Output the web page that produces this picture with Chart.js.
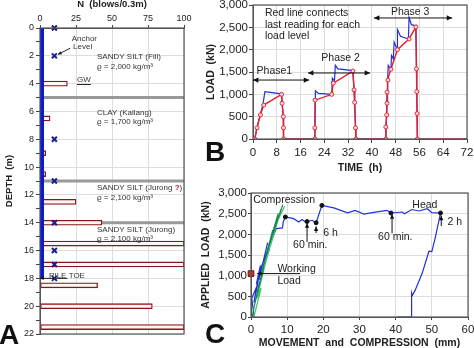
<!DOCTYPE html>
<html>
<head>
<meta charset="utf-8">
<script src="https://cdn.jsdelivr.net/npm/chart.js@4.4.0/dist/chart.umd.min.js"></script>
<style>
  body { margin: 0; background: #fff; }
  #wrap { position: relative; width: 474px; height: 348px; overflow: hidden; }
  canvas { position: absolute; }
</style>
</head>
<body>
<div id="wrap">
  <canvas id="chartA" width="200" height="348" style="left:0;top:0"></canvas>
  <canvas id="chartB" width="274" height="175" style="left:200px;top:0"></canvas>
  <canvas id="chartC" width="274" height="173" style="left:200px;top:175px"></canvas>
</div>
<script>
// --- A: SPT profile ---
const sptDepth = [4, 6.5, 9, 10.5, 12.5, 14, 15.5, 17, 18.5, 20, 21.5]
const sptN = [19, 7, 4, 4, 25, 43, 100, 100, 40, 78, 100]
const markDepth = [0, 2, 8, 11, 14, 16, 17, 18]
const markN = [10, 10, 10, 10, 10, 10, 10, 10]
const layerDepth = [5, 11, 14]
const pileN = 1.4
const pileToe = 18

// --- B: load vs time ---
const timeRed = [0, 0.6, 1.35, 2.5, 3.6, 9.6, 9.8, 10.2, 10.25, 10.3,
  20.8, 20.8, 20.9, 26.5, 27.0, 33.6, 34.0, 34.2, 34.5, 34.6,
  44.7, 44.7, 45.0, 45.1, 45.1, 45.4, 46.4, 48.6, 52.5, 54.8, 55.0, 55.1, 55.2, 55.3, 72]
const loadRed = [0, 0, 250, 540, 760, 1000, 800, 500, 250, 0,
  0, 250, 870, 1000, 1250, 1520, 1100, 820, 250, 0,
  0, 270, 540, 800, 1050, 1320, 1560, 2000, 2240, 2510, 1570, 1060, 570, 0, 0]
const timeBlue = [0.6, 1.3, 2.4, 3.3, 4.0, 9.6, 9.8, 10.2, 10.25, 10.3,
  20.8, 21.0, 22.0, 26.5, 26.7, 27.4, 27.7, 28.6, 33.6, 34.0, 34.2, 34.5, 34.6,
  44.7, 44.9, 45.1, 45.3, 45.5, 46.4, 46.6, 47.2, 47.5, 48.5, 48.6, 49.6, 52.3, 52.5, 53.3, 54.8, 55.0, 55.1, 55.2, 55.3]
const loadBlue = [0, 250, 540, 760, 1060, 1010, 800, 500, 250, 0,
  0, 1080, 1020, 1000, 1360, 1300, 1650, 1570, 1530, 1100, 820, 250, 0,
  0, 540, 1080, 1330, 1650, 1560, 1870, 1790, 2170, 2010, 2450, 2300, 2240, 2720, 2560, 2530, 1570, 1060, 570, 0]

// --- C: load vs movement ---
const headMm = [0.9, 0.2, 1.8, 0.8, 2.6, 1.5, 3.2, 2.2, 4.6, 3.3, 5.2, 4.2, 6.6, 5.4, 7.0, 8.7, 8.9, 9.5,
  11.8, 13.2, 14.1, 15.0, 15.5, 16.9, 18.0, 19.6, 22.9, 26.7, 28.8, 31.2, 33.9, 37.6, 38.7, 41.8, 42.4,
  44.5, 46.4, 48.7, 50.0, 52.4, 51.0, 50.0, 49.2, 47.3, 45.4, 44.6, 44.4, 44.4, 40.3]
const headKn = [0, 450, 780, 350, 1250, 800, 1300, 900, 1800, 1300, 1650, 1500, 2150, 1800, 2140, 2155, 2300, 2420,
  2380, 2300, 2357, 2300, 2310, 2340, 2280, 2700, 2640, 2520, 2580, 2490, 2530, 2580, 2516, 2540, 2500,
  2600, 2565, 2620, 2525, 2516, 1940, 1580, 1590, 1050, 650, 520, 580, 0, 0]
const compMm1 = [0.3, 2.2, 1.0, 3.5, 2.0, 4.8, 3.0, 6.0, 4.5, 7.5, 6.0, 8.8]
const compKn1 = [0, 800, 300, 1200, 700, 1700, 1100, 2100, 1600, 2500, 2000, 2720]
const compMm2 = [0.8, 2.8, 1.6, 4.0, 2.8, 5.5, 4.0, 7.0, 5.5, 8.3, 7.2, 9.3]
const compKn2 = [0, 700, 450, 1300, 900, 1800, 1300, 2250, 1750, 2600, 2300, 2680]
const holdMm = [9.5, 15.5, 18.0, 19.6, 38.7, 52.4]
const holdKn = [2420, 2310, 2280, 2700, 2516, 2516]
const workingLoad = 1050

const FONT = '"Liberation Sans", Arial, sans-serif'
Chart.defaults.font.family = FONT
Chart.defaults.color = '#222'
Chart.defaults.animation = false
Chart.defaults.plugins.legend.display = false
Chart.defaults.plugins.tooltip.enabled = false

const xy = (xs, ys) => xs.map((v, i) => ({ x: v, y: ys[i] }))

function arrow (ctx, x1, y1, x2, y2, head) {
  const a = Math.atan2(y2 - y1, x2 - x1)
  ctx.beginPath(); ctx.moveTo(x1, y1); ctx.lineTo(x2, y2); ctx.stroke()
  ctx.beginPath()
  ctx.moveTo(x2, y2)
  ctx.lineTo(x2 - head * Math.cos(a - 0.45), y2 - head * Math.sin(a - 0.45))
  ctx.lineTo(x2 - head * Math.cos(a + 0.45), y2 - head * Math.sin(a + 0.45))
  ctx.closePath(); ctx.fill()
}

const framePlugin = {
  id: 'frame',
  afterDatasetsDraw (chart) {
    const { ctx, chartArea: a } = chart
    ctx.save()
    ctx.strokeStyle = '#555'
    ctx.lineWidth = 1.2
    ctx.strokeRect(a.left, a.top, a.right - a.left, a.bottom - a.top)
    ctx.restore()
  }
}

const gridOpts = { color: '#ddd', tickColor: '#444', tickLength: 4, offset: false }

// ---------- A ----------
const notesA = {
  id: 'notesA',
  afterDraw (chart) {
    const { ctx, scales: { x, y } } = chart
    const px = v => x.getPixelForValue(v)
    const py = v => y.getPixelForValue(v)
    ctx.save()
    ctx.fillStyle = '#333'; ctx.strokeStyle = '#222'; ctx.lineWidth = 1
    ctx.font = '8px ' + FONT
    ctx.textBaseline = 'middle'
    ctx.fillText('Anchor', px(22), py(0.8))
    ctx.fillText('Level', px(23), py(1.37))
    ctx.fillStyle = '#111'
    arrow(ctx, px(21), py(1.45), px(12.5), py(1.9), 4)
    ctx.fillStyle = '#333'
    ctx.fillText('SANDY SILT (Fill)', px(39.6), py(2.09))
    ctx.fillText('\u03f1 = 2,000 kg/m\u00b3', px(39.6), py(2.8))
    ctx.fillText('GW', px(25.7), py(3.74))
    const gw = ctx.measureText('GW').width
    ctx.beginPath(); ctx.moveTo(px(25.7), py(3.74) + 4.5); ctx.lineTo(px(25.7) + gw, py(3.74) + 4.5); ctx.stroke()
    ctx.fillText('CLAY (Kallang)', px(39.6), py(6.1))
    ctx.fillText('\u03f1 = 1,700 kg/m\u00b3', px(39.6), py(6.76))
    const s1 = 'SANDY SILT (Jurong '
    ctx.fillText(s1, px(39.6), py(11.5))
    let w = ctx.measureText(s1).width
    ctx.fillStyle = '#d01010'; ctx.font = 'bold 8px ' + FONT
    ctx.fillText('?', px(39.6) + w, py(11.5))
    w += ctx.measureText('?').width
    ctx.fillStyle = '#333'; ctx.font = '8px ' + FONT
    ctx.fillText(')', px(39.6) + w, py(11.5))
    ctx.fillText('\u03f1 = 2,100 kg/m\u00b3', px(39.6), py(12.23))
    ctx.fillText('SANDY SILT (Jurong)', px(39.6), py(14.53))
    ctx.fillText('\u03f1 = 2,100 kg/m\u00b3', px(39.6), py(15.18))
    ctx.fillText('PILE TOE', px(6.3), py(17.78))
    ctx.fillStyle = '#111'
    arrow(ctx, px(19), py(pileToe), px(0), py(pileToe), 4)
    ctx.font = 'bold 28px ' + FONT
    ctx.textBaseline = 'alphabetic'
    ctx.fillText('A', -1, 344)
    ctx.restore()
  }
}

new Chart(document.getElementById('chartA'), {
  type: 'scatter',
  data: {
    datasets: [
      {
        type: 'scatter',
        data: xy(markN, markDepth),
        pointStyle: 'crossRot',
        pointRadius: 3.5,
        borderColor: '#1a1f8a',
        borderWidth: 2,
        clip: false
      },
      {
        type: 'scatter',
        data: [{ x: pileN, y: 0 }, { x: pileN, y: pileToe }],
        showLine: true,
        borderColor: '#0a1ad0',
        borderWidth: 4,
        pointRadius: 0
      },
      {
        type: 'bar',
        indexAxis: 'y',
        data: xy(sptN, sptDepth),
        barThickness: 5,
        borderSkipped: false,
        borderColor: '#8b1515',
        backgroundColor: '#fff6f6',
        borderWidth: 1.3
      },
      ...layerDepth.map(d => ({
        type: 'scatter',
        data: [{ x: 0, y: d }, { x: 100, y: d }],
        showLine: true,
        borderColor: '#999',
        borderWidth: 3,
        pointRadius: 0
      }))
    ]
  },
  options: {
    responsive: false,
    layout: { padding: { left: 0, top: 0, right: 16, bottom: 14 } },
    scales: {
      x: {
        type: 'linear', position: 'top', min: 0, max: 100, offset: false,
        ticks: { stepSize: 25, font: { size: 9 }, padding: 1.5 },
        grid: { ...gridOpts, tickLength: 3 },
        border: { color: '#555' },
        title: { display: true, text: 'N  (blows/0.3m)', font: { size: 9.5, weight: 'bold', lineHeight: 1 }, padding: 0 },
        afterFit: s => { s.height = 28; s.paddingLeft = 0; s.paddingRight = 0 }
      },
      y: {
        type: 'linear', reverse: true, min: 0, max: 22, offset: false,
        ticks: { stepSize: 1, autoSkip: false, font: { size: 9 }, padding: 2, callback: v => (v % 2 === 0 ? v : '') },
        grid: { ...gridOpts, color: c => (c.tick && c.tick.value % 2 === 0 ? '#ddd' : 'rgba(0,0,0,0)') },
        border: { color: '#555' },
        title: { display: true, text: 'DEPTH  (m)', font: { size: 9.5, weight: 'bold', lineHeight: 1 }, padding: { top: 5, bottom: 0 } },
        afterFit: s => { s.width = 40; s.paddingTop = 0; s.paddingBottom = 0 }
      }
    }
  },
  plugins: [framePlugin, notesA]
})

// ---------- B ----------
const notesB = {
  id: 'notesB',
  afterDraw (chart) {
    const { ctx, scales: { x, y } } = chart
    const px = v => x.getPixelForValue(v)
    const py = v => y.getPixelForValue(v)
    ctx.save()
    ctx.fillStyle = '#222'; ctx.strokeStyle = '#111'; ctx.lineWidth = 1
    ctx.font = '10.5px ' + FONT
    ctx.textBaseline = 'middle'
    ctx.fillText('Red line connects', px(4), py(2820))
    ctx.fillText('last reading for each', px(4), py(2555))
    ctx.fillText('load level', px(4), py(2310))
    ctx.fillText('Phase1', px(1.2), py(1520))
    ctx.fillText('Phase 2', px(23), py(1815))
    ctx.fillText('Phase 3', px(46.4), py(2840))
    const dbl = (a, b, v) => {
      const m = (px(a) + px(b)) / 2
      arrow(ctx, m, py(v), px(a), py(v), 6)
      arrow(ctx, m, py(v), px(b), py(v), 6)
    }
    ctx.fillStyle = '#111'
    dbl(0, 18.9, 1320)
    dbl(18.5, 39.4, 1478)
    dbl(40.7, 67, 2710)
    ctx.font = 'bold 28px ' + FONT
    ctx.textBaseline = 'alphabetic'
    ctx.fillText('B', 5, 161)
    ctx.restore()
  }
}

new Chart(document.getElementById('chartB'), {
  type: 'scatter',
  data: {
    datasets: [
      {
        data: xy(timeRed, loadRed),
        showLine: true,
        borderColor: '#e4202c',
        borderWidth: 1.4,
        pointRadius: c => (c.dataIndex === 0 || c.dataIndex === timeRed.length - 1 ? 0 : 2),
        pointBorderColor: '#e4202c',
        pointBackgroundColor: 'rgba(255,255,255,0.8)',
        pointBorderWidth: 1
      },
      {
        data: xy(timeBlue, loadBlue),
        showLine: true,
        borderColor: '#2030dd',
        borderWidth: 1.2,
        pointRadius: 0
      }
    ]
  },
  options: {
    responsive: false,
    layout: { padding: { left: 0, top: 5, right: 7, bottom: 0 } },
    scales: {
      x: {
        type: 'linear', min: 0, max: 72,
        ticks: { stepSize: 8, font: { size: 11.5 }, padding: 3 },
        grid: gridOpts,
        border: { color: '#555' },
        title: { display: true, text: 'TIME  (h)', font: { size: 10.5, weight: 'bold', lineHeight: 1 }, padding: { top: 0, bottom: 2 } },
        afterFit: s => { s.height = 36; s.paddingLeft = 0; s.paddingRight = 0 }
      },
      y: {
        type: 'linear', min: 0, max: 3000,
        ticks: { stepSize: 500, font: { size: 11.5 }, padding: 1 },
        grid: gridOpts,
        border: { color: '#555' },
        title: { display: true, text: 'LOAD  (kN)', font: { size: 10.5, weight: 'bold', lineHeight: 1 }, padding: { top: 6, bottom: 0 } },
        afterFit: s => { s.width = 53; s.paddingTop = 0; s.paddingBottom = 0 }
      }
    }
  },
  plugins: [framePlugin, notesB]
})

// ---------- C ----------
const notesC = {
  id: 'notesC',
  afterDraw (chart) {
    const { ctx, scales: { x, y } } = chart
    const px = v => x.getPixelForValue(v)
    const py = v => y.getPixelForValue(v)
    ctx.save()
    ctx.fillStyle = '#222'; ctx.strokeStyle = '#111'; ctx.lineWidth = 1
    ctx.font = '10.5px ' + FONT
    ctx.textBaseline = 'middle'
    ctx.fillText('Compression', px(0.6), py(2824))
    ctx.fillText('Working', px(7.3), py(1160))
    ctx.fillText('Load', px(7.3), py(880))
    ctx.fillText('Head', px(44.6), py(2703))
    ctx.textAlign = 'center'
    ctx.fillText('60 min.', px(16.4), py(1735))
    ctx.fillText('60 min.', px(39.9), py(1928))
    ctx.textAlign = 'left'
    ctx.fillText('6 h', px(20), py(2025))
    ctx.fillText('2 h', px(54.3), py(2290))
    ctx.fillStyle = '#111'
    arrow(ctx, px(13.6), py(workingLoad), px(1.7), py(workingLoad), 5)
    arrow(ctx, px(15.5), py(1815), px(15.5), py(2267), 5)
    arrow(ctx, px(18), py(2032), px(18), py(2190), 5)
    arrow(ctx, px(39), py(2024), px(39), py(2484), 5)
    arrow(ctx, px(52.6), py(2200), px(52.6), py(2450), 5)
    ctx.font = 'bold 28px ' + FONT
    ctx.textBaseline = 'alphabetic'
    ctx.fillText('C', 5, 168)
    ctx.restore()
  }
}

new Chart(document.getElementById('chartC'), {
  type: 'scatter',
  data: {
    datasets: [
      {
        data: xy(holdMm, holdKn),
        pointRadius: 2,
        pointBackgroundColor: '#111',
        pointBorderColor: '#111'
      },
      {
        data: [{ x: 0, y: workingLoad }],
        pointStyle: 'rect',
        pointRadius: 4,
        pointBackgroundColor: '#c0392b',
        pointBorderColor: '#6a1010',
        pointBorderWidth: 1,
        clip: false
      },
      {
        data: xy(compMm1, compKn1),
        showLine: true,
        borderColor: '#17884a',
        borderWidth: 1.2,
        pointRadius: 0
      },
      {
        data: xy(compMm2, compKn2),
        showLine: true,
        borderColor: '#3cc46a',
        borderWidth: 1.2,
        pointRadius: 0
      },
      {
        data: xy(headMm, headKn),
        showLine: true,
        borderColor: '#2030dd',
        borderWidth: 1.2,
        pointRadius: 0
      }
    ]
  },
  options: {
    responsive: false,
    layout: { padding: { left: 0, top: 18, right: 6, bottom: 0 } },
    scales: {
      x: {
        type: 'linear', min: 0, max: 60,
        ticks: { stepSize: 10, font: { size: 11.5 }, padding: 3 },
        grid: { ...gridOpts, tickLength: 3 },
        border: { color: '#555' },
        title: { display: true, text: 'MOVEMENT  and  COMPRESSION  (mm)', font: { size: 10.5, weight: 'bold', lineHeight: 1 }, padding: 0 },
        afterFit: s => { s.height = 31; s.paddingLeft = 0; s.paddingRight = 0 }
      },
      y: {
        type: 'linear', min: 0, max: 3000,
        ticks: { stepSize: 500, font: { size: 11.5 }, padding: 1 },
        grid: { ...gridOpts, tickLength: 3 },
        border: { color: '#555' },
        title: { display: true, text: 'APPLIED  LOAD  (kN)', font: { size: 10.5, weight: 'bold', lineHeight: 1 }, padding: { top: 1, bottom: 0 } },
        afterFit: s => { s.width = 51; s.paddingTop = 0; s.paddingBottom = 0 }
      }
    }
  },
  plugins: [framePlugin, notesC]
})
</script>
</body>
</html>
